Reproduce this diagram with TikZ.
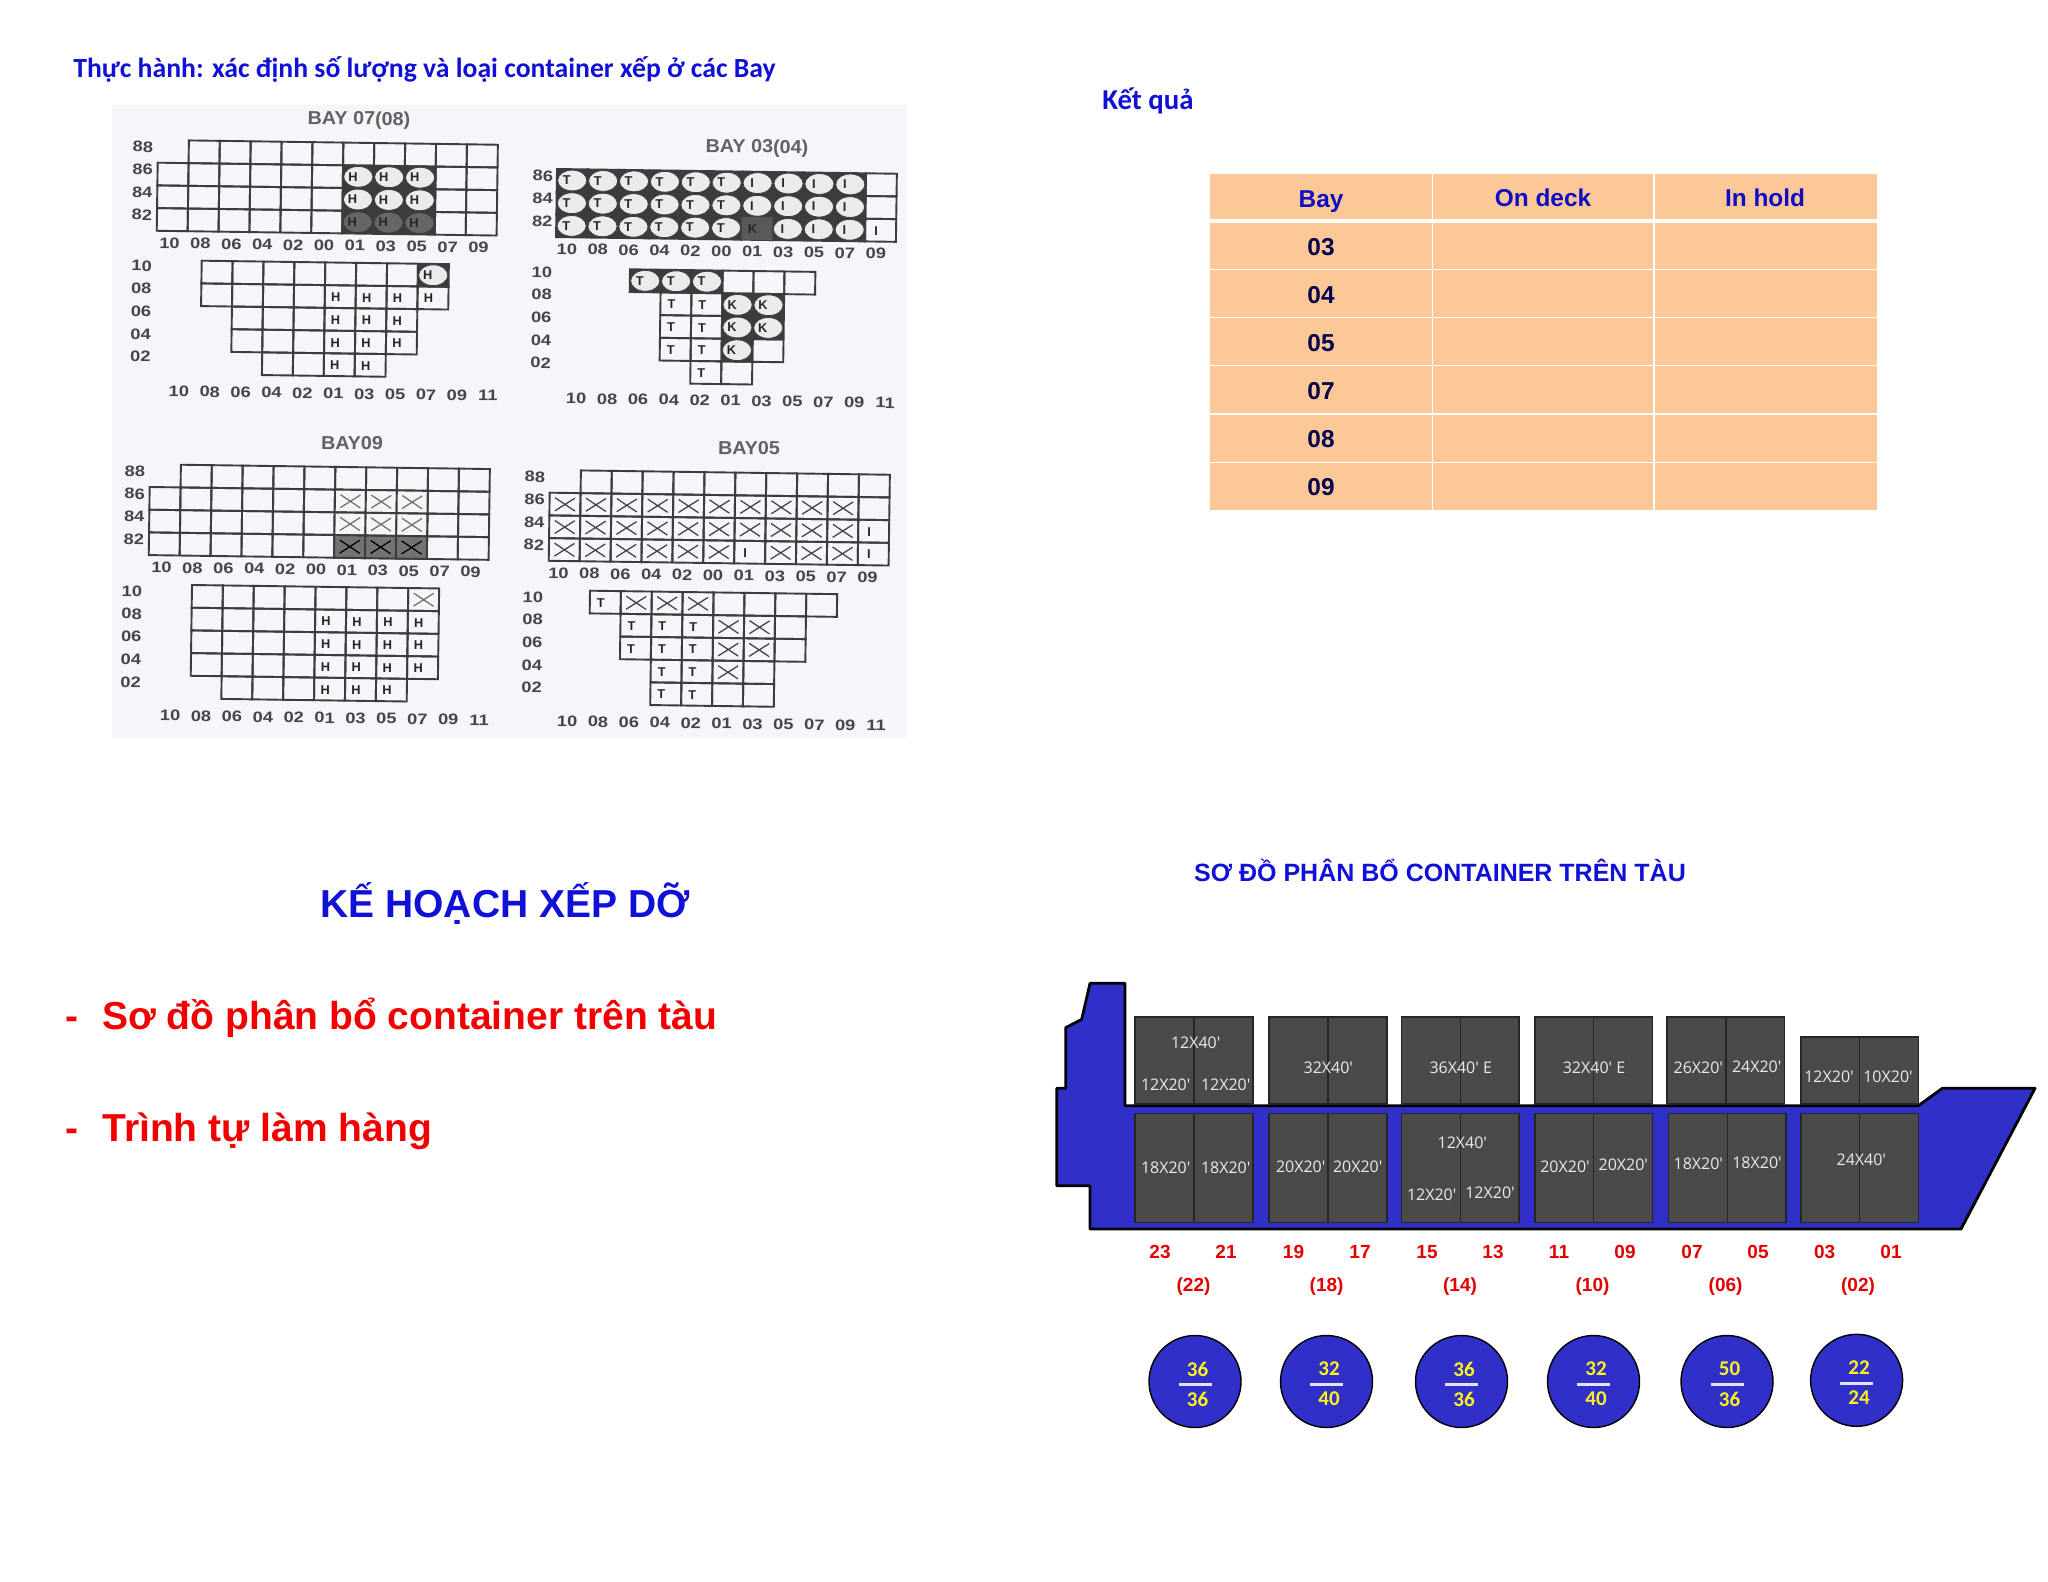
\documentclass[tikz,border=0pt]{standalone}
\usepackage{fontspec}
\setmainfont{Liberation Sans}
\newfontfamily\calibri{Carlito}
\newfontfamily\boxfont{Open Sans}
\definecolor{shipblue}{RGB}{48,48,200}
\definecolor{headblue}{RGB}{16,16,215}
\definecolor{tablefill}{RGB}{252,200,152}
\definecolor{scanback}{RGB}{246,246,250}
\definecolor{scanline}{RGB}{60,60,62}
\definecolor{scantext}{RGB}{70,70,74}
\definecolor{boxgray}{RGB}{74,74,74}
\newcommand{\cw}{30.9}
\newcommand{\ch}{22.7}
\tikzset{
  bayrot/.style={rotate=-.8},
  baycell/.style={draw=scanline,line width=.95pt},
  baynum/.style={font=\bfseries\fontsize{7.6}{8}\selectfont,text=scantext,inner sep=0,xscale=1.2,rotate=-.8},
  baytitle/.style={font=\bfseries\fontsize{9.4}{10}\selectfont,text=scantext!85,inner sep=0,xscale=1.05,rotate=-.8},
  bayletter/.style={font=\bfseries\fontsize{6.4}{7}\selectfont,text=black!85,inner sep=0},
  bayoval/.style={ellipse,minimum width=14.6pt,minimum height=10.4pt,inner sep=0,draw=scanline,line width=.4pt},
  contbox/.style={fill=boxgray,draw=black!85,line width=.8pt},
  contlabel/.style={font=\boxfont\fontsize{8}{9}\selectfont,text=white!92!black,inner sep=0},
  baylabel/.style={font=\bfseries\fontsize{9.5}{10}\selectfont,text=red!90!black,inner sep=0},
  bubble/.style={circle,fill=shipblue,draw=black,line width=.7pt,minimum size=46pt,inner sep=0},
  fraclabel/.style={font=\calibri\bfseries\fontsize{10.5}{11}\selectfont,text=yellow!90!white,inner sep=0},
  tablehead/.style={font=\bfseries\fontsize{12.2}{13}\selectfont,text=headblue!90!black,inner sep=0},
  tablenum/.style={font=\bfseries\fontsize{12.2}{13}\selectfont,text=blue!30!black,inner sep=0},
  slideline/.style={font=\bfseries\fontsize{19.5}{22}\selectfont,text=red!95!black,inner sep=0,anchor=west}
}
\usetikzlibrary{shapes.geometric}
\newcommand{\cellrow}[3]{\foreach \k in {#2,...,#3} \draw[baycell] (\k*\cw,#1*\ch) rectangle ++(\cw,\ch);}
\newcommand{\ovalcell}[4][white!92!black]{%
  \fill[scanline] (#3*\cw,#2*\ch) rectangle ++(\cw,\ch);
  \node[bayoval,fill=#1] (o#2#3) at (#3*\cw+15.4,#2*\ch+11.3) {};
  \node[bayletter] (l#2#3) at (#3*\cw+10,#2*\ch+11.3) {#4};}
\newcommand{\lettercell}[3]{\node[bayletter] (l#1#2) at (#2*\cw+11,#1*\ch+12) {#3};}
\newcommand{\xcell}[3][gray!90!black]{\draw[#1,line width=.65pt] (#3*\cw+5.5,#2*\ch+5) -- ++(20,13) (#3*\cw+5.5,#2*\ch+18) -- ++(20,-13);}
\newcommand{\rowlabels}[3]{\foreach \n [count=\i from 0] in {#3} \node[baynum] (r\i) at (#1,#2+\i*\ch) {\n};}
\newcommand{\collabels}[3]{\foreach \n [count=\i from 0] in #3 \node[baynum] (c\i) at (#1+\i*\cw,#2) {\n};}
\newcommand{\upperlabels}{10,08,06,04,02,00,01,03,05,07,09}
\newcommand{\lowerlabels}{10,08,06,04,02,01,03,05,07,09,11}
\begin{document}
\begin{tikzpicture}[x=.5pt,y=-.5pt]
\useasboundingbox (0,0) rectangle (2048,1582);
\fill[scanback] (112,105) rectangle (907,738);
\node[font=\calibri\bfseries\fontsize{13.85}{15}\selectfont,text=headblue,inner sep=0,anchor=west] (practice) at (73,70) {Thực hành: xác định số lượng và loại container xếp ở các Bay};
\node[font=\calibri\bfseries\fontsize{14.4}{15}\selectfont,text=headblue,inner sep=0,anchor=west] (result) at (1102,101) {Kết quả};
% bay 07(08)
\node[baytitle] (bay07) at (359,120) {BAY 07(08)};
\begin{scope}[shift={(158,140)},bayrot]
\cellrow{0}{1}{10}
\foreach \r in {1,2,3} {\cellrow{\r}{0}{10}}
\foreach \c in {6,7,8} {\ovalcell{1}{\c}{H} \ovalcell{2}{\c}{H} \ovalcell[gray!80!black]{3}{\c}{H}}
\rowlabels{-15}{7}{88,86,84,82}
\collabels{13}{103}{\upperlabels}
\end{scope}
\begin{scope}[shift={(201.7,260.7)},bayrot]
\foreach \r in {0,1} {\cellrow{\r}{0}{7}}
\foreach \r in {2,3} {\cellrow{\r}{1}{6}}
\cellrow{4}{2}{5}
\ovalcell{0}{7}{H}
\foreach \c in {4,5,6,7} {\lettercell{1}{\c}{H}}
\foreach \c in {4,5,6} {\lettercell{2}{\c}{H} \lettercell{3}{\c}{H}}
\foreach \c in {4,5} {\lettercell{4}{\c}{H}}
\rowlabels{-60}{6}{10,08,06,04,02}
\collabels{-21}{131}{\lowerlabels}
\end{scope}
% bay 03(04)
\node[baytitle] (bay03) at (757,148) {BAY 03(04)};
\begin{scope}[shift={(557,169)},bayrot]
\foreach \r in {0,1,2} {\cellrow{\r}{0}{10}}
\foreach \r in {0,1,2} {\foreach \c in {0,...,5} {\ovalcell{\r}{\c}{T}}}
\foreach \r in {0,1} {\foreach \c in {6,...,9} {\ovalcell{\r}{\c}{I}}}
\foreach \c in {7,8,9} {\ovalcell{2}{\c}{I}}
\fill[gray!70!black] (6*\cw,2*\ch) rectangle ++(\cw,\ch);
\lettercell{2}{6}{K}
\lettercell{2}{10}{I}
\rowlabels{-14}{7}{86,84,82}
\collabels{11}{80}{\upperlabels}
\end{scope}
\begin{scope}[shift={(630,269.3)},bayrot]
\cellrow{0}{0}{5}
\foreach \r in {1,2,3} {\cellrow{\r}{1}{4}}
\cellrow{4}{2}{3}
\foreach \c in {0,1,2} {\ovalcell{0}{\c}{T}}
\foreach \r in {1,2,3} {\lettercell{\r}{1}{T} \lettercell{\r}{2}{T}}
\lettercell{4}{2}{T}
\ovalcell{1}{3}{K} \ovalcell{1}{4}{K}
\ovalcell{2}{3}{K} \ovalcell{2}{4}{K}
\ovalcell{3}{3}{K}
\rowlabels{-88}{4}{10,08,06,04,02}
\collabels{-52}{130}{\lowerlabels}
\end{scope}
% bay 09
\node[baytitle] (bay09) at (352,443) {BAY09};
\begin{scope}[shift={(150,464.3)},bayrot]
\cellrow{0}{1}{10}
\foreach \r in {1,2,3} {\cellrow{\r}{0}{10}}
\foreach \c in {6,7,8} {
  \fill[gray!8] (\c*\cw,\ch) rectangle ++(\cw,\ch);
  \fill[gray!8] (\c*\cw,2*\ch) rectangle ++(\cw,\ch);
  \fill[gray!90!black] (\c*\cw,3*\ch) rectangle ++(\cw,\ch);
  \draw[baycell] (\c*\cw,\ch) rectangle ++(\cw,\ch);
  \draw[baycell] (\c*\cw,2*\ch) rectangle ++(\cw,\ch);
  \draw[baycell] (\c*\cw,3*\ch) rectangle ++(\cw,\ch);
  \xcell{1}{\c} \xcell{2}{\c} \xcell[black]{3}{\c}}
\rowlabels{-15}{7}{88,86,84,82}
\collabels{13}{103}{\upperlabels}
\end{scope}
\begin{scope}[shift={(192,585)},bayrot]
\foreach \r in {0,1,2,3} {\cellrow{\r}{0}{7}}
\cellrow{4}{1}{6}
\xcell{0}{7}
\foreach \r in {1,2,3} {\foreach \c in {4,5,6,7} {\lettercell{\r}{\c}{H}}}
\foreach \c in {4,5,6} {\lettercell{4}{\c}{H}}
\rowlabels{-60}{7}{10,08,06,04,02}
\collabels{-20}{131}{\lowerlabels}
\end{scope}
% bay 05
\node[baytitle] (bay05) at (749,448) {BAY05};
\begin{scope}[shift={(550,470)},bayrot]
\cellrow{0}{1}{10}
\foreach \r in {1,2,3} {\cellrow{\r}{0}{10}}
\foreach \r in {1,2} {\foreach \c in {0,...,9} {\xcell[scantext]{\r}{\c}}}
\foreach \c in {0,1,2,3,4,5,7,8,9} {\xcell[scantext]{3}{\c}}
\lettercell{3}{6}{I}
\lettercell{2}{10}{I}
\lettercell{3}{10}{I}
\rowlabels{-15}{7}{88,86,84,82}
\collabels{10}{103}{\upperlabels}
\end{scope}
\begin{scope}[shift={(590,590.7)},bayrot]
\cellrow{0}{0}{7}
\foreach \r in {1,2} {\cellrow{\r}{1}{6}}
\foreach \r in {3,4} {\cellrow{\r}{2}{5}}
\lettercell{0}{0}{T}
\foreach \c in {1,2,3} {\xcell[scantext]{0}{\c}}
\foreach \r in {1,2} {\foreach \c in {1,2,3} {\lettercell{\r}{\c}{T}} \xcell[scantext]{\r}{4} \xcell[scantext]{\r}{5}}
\foreach \r in {3,4} {\lettercell{\r}{2}{T} \lettercell{\r}{3}{T}}
\xcell[scantext]{3}{4}
\rowlabels{-57}{7}{10,08,06,04,02}
\collabels{-21}{131}{\lowerlabels}
\end{scope}
% table
\fill[tablefill] (1210,174) rectangle (1876.5,510);
\foreach \x in {1432.5,1654} \draw[white,line width=.7pt] (\x,174) -- (\x,510);
\foreach \y in {269.3,317.7,365.7,414,462.3} \draw[white,line width=.7pt] (1210,\y) -- (1876.5,\y);
\draw[white,line width=2pt] (1210,221) -- (1876.5,221);
\node[tablehead] (bayhead) at (1321,201.5) {Bay};
\node[tablehead] (deckhead) at (1543,198) {On deck};
\node[tablehead] (holdhead) at (1765,198) {In hold};
\foreach \n/\y in {03/246.7,04/294.7,05/343,07/391,08/439.5,09/487.5} \node[tablenum] (num\n) at (1321,\y) {\n};
% left text
\node[font=\bfseries\fontsize{19.5}{21}\selectfont,text=headblue,inner sep=0] (plan) at (505,904) {KẾ HOẠCH XẾP DỠ};
\node[slideline] (dash1) at (65,1023) {-};
\node[slideline] (line1) at (102,1018) {Sơ đồ phân bổ container trên tàu};
\node[slideline] (dash2) at (65,1135) {-};
\node[slideline] (line2) at (102,1131) {Trình tự làm hàng};
% ship
\node[font=\bfseries\fontsize{12.5}{14}\selectfont,text=headblue,inner sep=0] (shiptitle) at (1440,870) {SƠ ĐỒ PHÂN BỔ CONTAINER TRÊN TÀU};
\draw[fill=shipblue,line width=1.4pt,line join=round] (1090,983.3) -- (1125,983.3) -- (1125,1105.7) -- (1918.3,1105.7) -- (1942.3,1088.3) -- (2035,1088.3) -- (1961,1229) -- (1090,1229) -- (1090,1185.7) -- (1056.7,1185.7) -- (1056.7,1088.3) -- (1065.7,1088.3) -- (1065.7,1027.7) -- (1081.7,1019.3) -- cycle;
\foreach \xa/\xb/\xc/\ya/\yb in {1135/1194/1252.7/1016.7/1104,1269/1327.7/1386.7/1016.7/1104,1401.3/1460.3/1519/1016.7/1104,1535/1593.3/1652.3/1016.7/1104,1666.7/1725.7/1784.3/1016.7/1104,1800.7/1859.3/1918.3/1036.7/1104,1135/1194/1252.7/1113.3/1222.3,1269/1327.7/1386.7/1113.3/1222.3,1401.3/1460.3/1519/1113.3/1222.3,1535/1593.3/1652.3/1113.3/1222.3,1668.3/1727.3/1785.7/1113.3/1222.3,1800.7/1859.3/1918.3/1113.3/1222.3} {
  \draw[contbox] (\xa,\ya) rectangle (\xc,\yb);
  \draw[contbox] (\xb,\ya) -- (\xb,\yb);
}
\foreach \x/\y/\t [count=\i] in {1195.7/1042.3/12X40′,1165.7/1084.3/12X20′,1225.7/1084.3/12X20′,1328.3/1067.7/32X40′,1460.7/1067.7/36X40′ E,1594/1067.7/32X40′ E,1698.3/1067.7/26X20′,1756.7/1066.7/24X20′,1829/1076.3/12X20′,1888/1076.3/10X20′,1165.7/1168/18X20′,1225.7/1168/18X20′,1300.7/1166.7/20X20′,1357.7/1166.7/20X20′,1462.3/1142.7/12X40′,1431.7/1194.7/12X20′,1490/1193/12X20′,1565/1166.7/20X20′,1623.3/1165/20X20′,1698.3/1163.3/18X20′,1757/1162.3/18X20′,1861.3/1159.7/24X40′}
  \node[contlabel] (cont\i) at (\x,\y) {\t};
\foreach \t/\x in {23/1160,21/1226,19/1293.5,17/1360,15/1427,13/1493,11/1559,09/1625,07/1692,05/1758,03/1824.6,01/1891}
  \node[baylabel] (row\t) at (\x,1252) {\t};
\foreach \t/\x in {22/1193.5,18/1326.6,14/1460,10/1592.5,06/1725.6,02/1858}
  \node[baylabel] (pair\t) at (\x,1287) {(\t)};
\foreach \x/\y/\a/\b [count=\i] in {1195/1381.5/36/36,1326.5/1381.5/32/40,1461.5/1381.5/36/36,1593.5/1381.5/32/40,1727/1381.5/50/36,1856.6/1380.3/22/24} {
  \node[bubble] (load\i) at (\x,\y) {};
  \draw[white!90!blue,line width=1.5pt] (\x-16.5,\y+3.2) -- (\x+16.5,\y+3.2);
  \node[fraclabel] (top\i) at (\x+2.5,\y-12.5) {\a};
  \node[fraclabel] (bot\i) at (\x+2.5,\y+17.5) {\b};
}
\end{tikzpicture}
\end{document}
